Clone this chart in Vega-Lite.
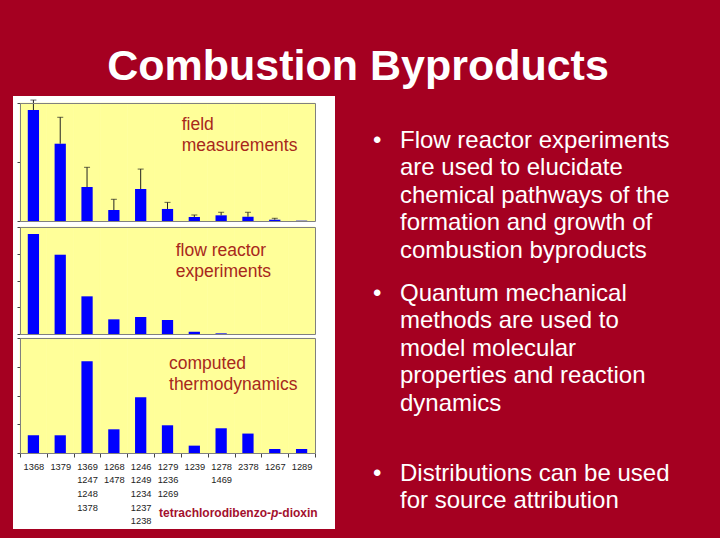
{
  "$schema": "https://vega.github.io/schema/vega-lite/v6.json",
  "background": "#A50021",
  "padding": {"left": 13, "top": 45, "right": 17, "bottom": 9},
  "config": {"view": {"stroke": null}, "axis": {"grid": false}, "font": "Liberation Sans"},
  "title": {"text": "Combustion Byproducts", "fontSize": 43, "fontWeight": "bold", "color": "white", "anchor": "middle", "offset": 7.5, "font": "Liberation Sans"},
  "datasets": {
    "cong": [
      {"label": "1368", "field": 94, "field_hi": 102.5, "flow": 93.5, "comp": 15.4},
      {"label": "1379", "field": 65.5, "field_hi": 87.9, "flow": 74.1, "comp": 15.4},
      {"label": "1369|1247|1248|1378", "field": 28.8, "field_hi": 45.5, "flow": 35.2, "comp": 79.7},
      {"label": "1268|1478", "field": 9.3, "field_hi": 18.4, "flow": 13.7, "comp": 20.6},
      {"label": "1246|1249|1234|1237|1238", "field": 27.1, "field_hi": 44, "flow": 15.9, "comp": 48.4},
      {"label": "1279|1236|1269", "field": 10.2, "field_hi": 15.8, "flow": 13.1, "comp": 24.1},
      {"label": "1239", "field": 3.4, "field_hi": 5.1, "flow": 2.1, "comp": 6.4},
      {"label": "1278|1469", "field": 4.8, "field_hi": 7.4, "flow": 0.6, "comp": 21.5},
      {"label": "2378", "field": 3.6, "field_hi": 7.4, "flow": 0, "comp": 16.9},
      {"label": "1267", "field": 1.1, "field_hi": 2.3, "flow": 0, "comp": 3.5},
      {"label": "1289", "field": 0.3, "field_hi": null, "flow": 0, "comp": 3.5}
    ],
    "bullets": [
      {"item": 1, "bullet": "•", "text": "Flow reactor experiments\nare used to elucidate\nchemical pathways of the\nformation and growth of\ncombustion byproducts"},
      {"item": 2, "bullet": "•", "text": "Quantum mechanical\nmethods are used to\nmodel molecular\nproperties and reaction\ndynamics"},
      {"item": 3, "bullet": "\n•", "text": "\nDistributions can be used\nfor source attribution"}
    ]
  },
  "hconcat": [
    {
      "vconcat": [
        {
          "width": 322, "height": 128,
          "view": {"fill": "white", "stroke": null},
          "data": {"name": "cong"},
          "layer": [
            {
              "mark": {"type": "bar", "color": "#FFFF99", "stroke": "#FFFF99", "strokeWidth": 0.6},
              "encoding": {
                "x": {"field": "label", "type": "nominal", "sort": null, "scale": {"range": [7, 302], "paddingInner": 0, "paddingOuter": 0},
                      "axis": {"orient": "bottom", "offset": -3, "domainColor": "#808080", "ticks": false, "labels": false, "title": null, "zindex": 1}},
                "y": {"datum": 100, "type": "quantitative", "scale": {"domain": [0, 100], "range": [125, 7], "nice": false},
                      "axis": {"orient": "left", "offset": -7, "values": [0, 50, 100], "tickSize": 3, "tickColor": "#444", "domainColor": "#808080", "labels": false, "title": null, "zindex": 1}}
              }
            },
            {
              "mark": {"type": "bar", "color": "#0000FF", "width": {"band": 0.42}},
              "encoding": {
                "x": {"field": "label", "type": "nominal", "sort": null,
                      "axis": {"orient": "top", "offset": -7, "domainColor": "#808080", "ticks": false, "labels": false, "title": null, "zindex": 1}},
                "y": {"field": "field", "type": "quantitative",
                      "axis": {"orient": "right", "offset": -20, "domainColor": "#808080", "ticks": false, "labels": false, "title": null, "zindex": 1}}
              }
            },
            {
              "transform": [{"filter": "datum.field_hi != null"}],
              "mark": {"type": "rule", "color": "#222", "strokeWidth": 1},
              "encoding": {
                "x": {"field": "label", "type": "nominal", "sort": null, "axis": null},
                "y": {"field": "field", "type": "quantitative", "axis": null},
                "y2": {"field": "field_hi"}
              }
            },
            {
              "transform": [{"filter": "datum.field_hi != null"}],
              "mark": {"type": "tick", "color": "#222", "thickness": 1, "size": 6},
              "encoding": {
                "x": {"field": "label", "type": "nominal", "sort": null, "axis": null},
                "y": {"field": "field_hi", "type": "quantitative", "axis": null}
              }
            },
            {
              "data": {"values": [{}]},
              "mark": {"type": "text", "text": ["field", "measurements"], "align": "left", "baseline": "middle", "fontSize": 17.5, "lineHeight": 21, "color": "#A8281C", "dx": -12.6},
              "encoding": {
                "x": {"datum": "1239", "type": "nominal", "axis": null},
                "y": {"datum": 81.4, "type": "quantitative", "axis": null}
              }
            }
          ],
          "resolve": {"axis": {"x": "independent", "y": "independent"}}
        },
        {
          "width": 322, "height": 112,
          "view": {"fill": "white", "stroke": null},
          "data": {"name": "cong"},
          "layer": [
            {
              "mark": {"type": "bar", "color": "#FFFF99", "stroke": "#FFFF99", "strokeWidth": 0.6},
              "encoding": {
                "x": {"field": "label", "type": "nominal", "sort": null, "scale": {"range": [7, 302], "paddingInner": 0, "paddingOuter": 0},
                      "axis": {"orient": "bottom", "offset": -2, "domainColor": "#808080", "ticks": false, "labels": false, "title": null, "zindex": 1}},
                "y": {"datum": 100, "type": "quantitative", "scale": {"domain": [0, 100], "range": [110, 3], "nice": false},
                      "axis": {"orient": "left", "offset": -7, "values": [0, 25, 50, 75, 100], "tickSize": 3, "tickColor": "#444", "domainColor": "#808080", "labels": false, "title": null, "zindex": 1}}
              }
            },
            {
              "mark": {"type": "bar", "color": "#0000FF", "width": {"band": 0.42}},
              "encoding": {
                "x": {"field": "label", "type": "nominal", "sort": null,
                      "axis": {"orient": "top", "offset": -3, "domainColor": "#808080", "ticks": false, "labels": false, "title": null, "zindex": 1}},
                "y": {"field": "flow", "type": "quantitative",
                      "axis": {"orient": "right", "offset": -20, "domainColor": "#808080", "ticks": false, "labels": false, "title": null, "zindex": 1}}
              }
            },
            {
              "data": {"values": [{}]},
              "mark": {"type": "text", "text": ["flow reactor", "experiments"], "align": "left", "baseline": "middle", "fontSize": 17.5, "lineHeight": 21, "color": "#A8281C", "dx": -18.6},
              "encoding": {
                "x": {"datum": "1239", "type": "nominal", "axis": null},
                "y": {"datum": 77.6, "type": "quantitative", "axis": null}
              }
            }
          ],
          "resolve": {"axis": {"x": "independent", "y": "independent"}}
        },
        {
          "width": 322, "height": 193,
          "view": {"fill": "white", "stroke": null},
          "data": {"name": "cong"},
          "layer": [
            {
              "mark": {"type": "bar", "color": "#FFFF99", "stroke": "#FFFF99", "strokeWidth": 0.6},
              "encoding": {
                "x": {"field": "label", "type": "nominal", "sort": null, "scale": {"range": [7, 302], "paddingInner": 0, "paddingOuter": 0},
                      "axis": {"orient": "bottom", "offset": -76, "domainColor": "#808080", "ticks": true, "tickBand": "extent", "tickSize": 4, "tickColor": "#444",
                               "labels": true, "labelExpr": "split(datum.label, '|')", "labelFontSize": 9.3, "labelLineHeight": 13.7, "labelPadding": 5, "labelColor": "#222", "labelAngle": 0, "labelOverlap": false, "title": null, "zindex": 1}},
                "y": {"datum": 100, "type": "quantitative", "scale": {"domain": [0, 100], "range": [117, 2], "nice": false},
                      "axis": {"orient": "left", "offset": -7, "values": [0, 25, 50, 75, 100], "tickSize": 3, "tickColor": "#444", "domainColor": "#808080", "labels": false, "title": null, "zindex": 1}}
              }
            },
            {
              "mark": {"type": "bar", "color": "#0000FF", "width": {"band": 0.42}},
              "encoding": {
                "x": {"field": "label", "type": "nominal", "sort": null,
                      "axis": {"orient": "top", "offset": -2, "domainColor": "#808080", "ticks": false, "labels": false, "title": null, "zindex": 1}},
                "y": {"field": "comp", "type": "quantitative",
                      "axis": {"orient": "right", "offset": -20, "domainColor": "#808080", "ticks": false, "labels": false, "title": null, "zindex": 1}}
              }
            },
            {
              "data": {"values": [{}]},
              "mark": {"type": "text", "text": ["computed", "thermodynamics"], "align": "left", "baseline": "middle", "fontSize": 17.5, "lineHeight": 21, "color": "#A8281C", "dx": -25.3},
              "encoding": {
                "x": {"datum": "1239", "type": "nominal", "axis": null},
                "y": {"datum": 77.4, "type": "quantitative", "axis": null}
              }
            },
            {
              "data": {"values": [{}]},
              "mark": {"type": "text", "text": "tetrachlorodibenzo-", "align": "left", "baseline": "middle", "fontSize": 12, "fontWeight": "bold", "color": "#A3102E", "dx": -8.5},
              "encoding": {
                "x": {"datum": "1279|1236|1269", "type": "nominal", "axis": null},
                "y": {"datum": -52.2, "type": "quantitative", "axis": null}
              }
            },
            {
              "data": {"values": [{}]},
              "mark": {"type": "text", "text": "p", "align": "left", "baseline": "middle", "fontSize": 12, "fontWeight": "bold", "fontStyle": "italic", "color": "#A3102E", "dx": 103.5},
              "encoding": {
                "x": {"datum": "1279|1236|1269", "type": "nominal", "axis": null},
                "y": {"datum": -52.2, "type": "quantitative", "axis": null}
              }
            },
            {
              "data": {"values": [{}]},
              "mark": {"type": "text", "text": "-dioxin", "align": "left", "baseline": "middle", "fontSize": 12, "fontWeight": "bold", "color": "#A3102E", "dx": 110.8},
              "encoding": {
                "x": {"datum": "1279|1236|1269", "type": "nominal", "axis": null},
                "y": {"datum": -52.2, "type": "quantitative", "axis": null}
              }
            }
          ],
          "resolve": {"axis": {"x": "independent", "y": "independent"}}
        }
      ],
      "spacing": 0
    },
    {
      "width": 358, "height": 433,
      "view": {"stroke": null, "fill": null},
      "data": {"name": "bullets"},
      "layer": [
        {
          "mark": {"type": "text", "lineBreak": "\n", "align": "left", "baseline": "alphabetic", "fontSize": 24, "lineHeight": 27.5, "color": "white", "dx": -124},
          "encoding": {
            "y": {"field": "item", "type": "ordinal", "scale": {"type": "point", "range": [51.9, 357.3], "padding": 0}, "axis": null},
            "text": {"field": "text"}
          }
        },
        {
          "mark": {"type": "text", "lineBreak": "\n", "align": "left", "baseline": "alphabetic", "fontSize": 24, "lineHeight": 27.5, "color": "white", "dx": -151},
          "encoding": {
            "y": {"field": "item", "type": "ordinal", "axis": null},
            "text": {"field": "bullet"}
          }
        }
      ]
    }
  ],
  "spacing": 10
}
